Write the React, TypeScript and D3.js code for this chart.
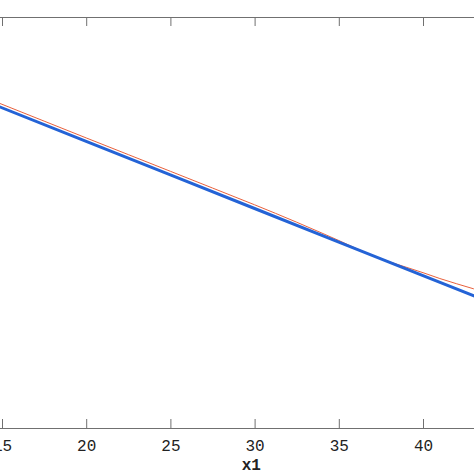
import { useEffect, useRef } from 'react'
import * as d3 from 'd3'

const fitX = [14, 20, 25, 30, 35, 40, 44]
const fitY = [7.954, 6.974, 6.158, 5.341, 4.525, 3.708, 3.055]

const obsX = [14, 15, 17.5, 20, 22.5, 25, 27.5, 30, 32.5, 34, 35, 36, 37, 38, 39, 40, 41, 42, 43, 44]
const obsY = [8.039, 7.876, 7.467, 7.058, 6.652, 6.246, 5.839, 5.431, 5.007, 4.742, 4.562, 4.375, 4.2, 4.046, 3.912, 3.779, 3.637, 3.509, 3.387, 3.26]

// only the ticks that fall inside the cropped view
const xTicks = [15, 20, 25, 30, 35, 40]

const App = () => {
  const W = 474
  const H = 474
  const svgRef = useRef<SVGSVGElement>(null)

  useEffect(() => {
    const svg = d3.select(svgRef.current)
    svg.selectAll('*').remove()

    const top = 17
    const bottom = 428

    // the axes box is wider than the cropped view
    const xScale = d3.scaleLinear().domain([10, 50]).range([-82.2, 591.4])
    const yScale = d3.scaleLinear().domain([0, 10]).range([bottom, top])

    const line = d3.line<number>()
      .x(d => xScale(d))

    svg.append('path')
      .attr('fill', 'none')
      .attr('stroke', '#e8603c')
      .attr('stroke-width', 1)
      .attr('d', d3.line<number>()
        .x((d) => xScale(d))
        .y((_, i) => yScale(obsY[i]))
        .curve(d3.curveMonotoneX)(obsX))

    svg.append('path')
      .attr('fill', 'none')
      .attr('stroke', '#2463d6')
      .attr('stroke-width', 3)
      .attr('d', line.y((_, i) => yScale(fitY[i]))(fitX))

    const axisColor = '#707070'

    const gBottom = svg.append('g')
      .attr('transform', `translate(0,${bottom})`)
      .call(d3.axisBottom(xScale).tickValues(xTicks).tickSizeInner(-9).tickSizeOuter(0).tickPadding(12).tickFormat(d3.format('d')))
    gBottom.select('.domain').attr('stroke', axisColor)
    gBottom.selectAll('line').attr('stroke', axisColor)
    gBottom.selectAll('text')
      .attr('fill', '#222')
      .style('font-family', '"Liberation Mono", monospace')
      .style('font-size', '16px')

    const gTop = svg.append('g')
      .attr('transform', `translate(0,${top})`)
      .call(d3.axisTop(xScale).tickValues(xTicks).tickSizeInner(-9).tickSizeOuter(0).tickFormat(() => ''))
    gTop.select('.domain').attr('stroke', axisColor)
    gTop.selectAll('line').attr('stroke', axisColor)

    svg.append('text')
      .attr('x', xScale(29.8))
      .attr('y', 470)
      .attr('text-anchor', 'middle')
      .style('font-family', '"Liberation Mono", monospace')
      .style('font-size', '16px')
      .style('font-weight', 'bold')
      .style('fill', '#222')
      .text('x1')
  }, [])

  return (
    <svg ref={svgRef} width={W} height={H} style={{ position: 'absolute', left: 0, top: 0, background: '#fff' }}></svg>
  )
}

export default App
